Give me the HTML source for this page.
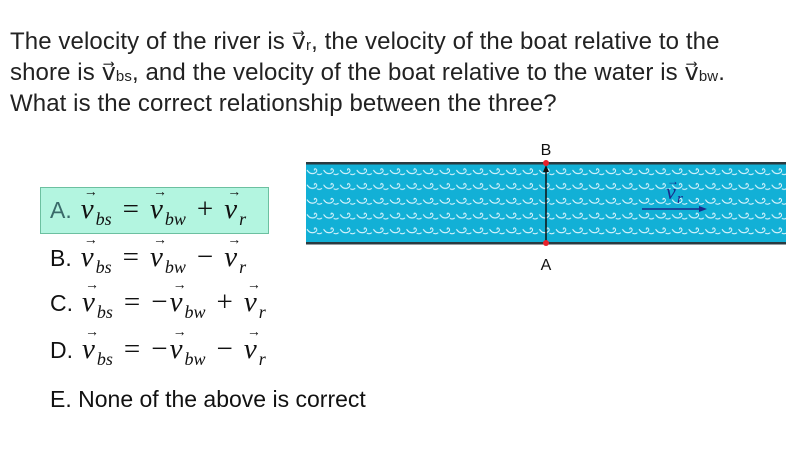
<!DOCTYPE html>
<html><head><style>
body{margin:0;width:797px;height:473px;background:#fff;position:relative;overflow:hidden;font-family:"Liberation Sans",Arial,sans-serif;}
.q{position:absolute;left:10px;top:28px;font-size:24px;line-height:27px;color:#222;white-space:nowrap;letter-spacing:0.1px}
.q sub{font-size:15px;vertical-align:-1px}
.opt{position:absolute;left:50px;font-size:23px;color:#111;white-space:nowrap}
.m{font-family:"Liberation Serif",serif;font-style:italic;font-size:29px;margin-left:9px}
.m sub{font-size:18px;margin-left:2px}
.n{font-style:normal;margin:0 11px}
.s{font-style:normal;margin-right:2px}
.v{position:relative;display:inline-block}
.v:before{content:"→";position:absolute;font-style:normal;font-size:14px;top:-8px;left:3px}
</style></head><body>
<div class="q">The velocity of the river is v⃗<sub>r</sub>, the velocity of the boat relative to the<br>shore is v⃗<sub>bs</sub>, and the velocity of the boat relative to the water is v⃗<sub>bw</sub>.<br>What is the correct relationship between the three?</div>
<div style="position:absolute;left:40px;top:187px;width:229px;height:47px;background:#b3f5e0;border:1px solid #6cc0a0;box-sizing:border-box"></div>
<div class="opt" style="top:193px"><span style="color:#3a6a6a">A.</span><span class="m"><span class="v">v</span><sub>bs</sub><span class="n">=</span><span class="v">v</span><sub>bw</sub><span class="n">+</span><span class="v">v</span><sub>r</sub></span></div>
<div class="opt" style="top:241px">B.<span class="m"><span class="v">v</span><sub>bs</sub><span class="n">=</span><span class="v">v</span><sub>bw</sub><span class="n">−</span><span class="v">v</span><sub>r</sub></span></div>
<div class="opt" style="top:286px">C.<span class="m"><span class="v">v</span><sub>bs</sub><span class="n">=</span><span class="s">−</span><span class="v">v</span><sub>bw</sub><span class="n">+</span><span class="v">v</span><sub>r</sub></span></div>
<div class="opt" style="top:333px">D.<span class="m"><span class="v">v</span><sub>bs</sub><span class="n">=</span><span class="s">−</span><span class="v">v</span><sub>bw</sub><span class="n">−</span><span class="v">v</span><sub>r</sub></span></div>
<div class="opt" style="top:386px">E. None of the above is correct</div>
<svg style="position:absolute;left:0;top:0" width="797" height="473">
<defs><pattern id="w" x="306" y="165" width="16.6" height="14.8" patternUnits="userSpaceOnUse">
<path d="M1 5 Q4 10 9 8 Q12 6 10 4 Q8 3 8.5 5.5 M11 9 Q13.5 10.5 16 8.5" fill="none" stroke="#e8f8ff" stroke-width="1"/>
</pattern></defs>
<rect x="306" y="163" width="480" height="80" fill="#12b0d6"/>
<rect x="306" y="163" width="480" height="80" fill="url(#w)"/>
<rect x="306" y="162" width="480" height="2.5" fill="#2a3a40"/>
<rect x="306" y="242" width="480" height="2.5" fill="#2a3a40"/>
<line x1="546" y1="243" x2="546" y2="168" stroke="#111" stroke-width="1.5"/>
<polygon points="546,165 543,172 549,172" fill="#111"/>
<circle cx="546" cy="163" r="3" fill="#e8202a"/>
<circle cx="546" cy="243" r="3" fill="#e8202a"/>
<line x1="642" y1="209" x2="700" y2="209" stroke="#1a2a8a" stroke-width="1.5"/>
<polygon points="707,209 699,206 699,212" fill="#1a2a8a"/>
<text x="666" y="199" font-family="Liberation Serif" font-style="italic" font-size="22" fill="#1a2a8a">v</text>
<text x="677" y="203" font-family="Liberation Serif" font-style="italic" font-size="15" fill="#1a2a8a">r</text>
<text x="667" y="185" font-size="12" fill="#1a2a8a">→</text>
<text x="546" y="155" text-anchor="middle" font-family="Liberation Sans" font-size="16" fill="#111">B</text>
<text x="546" y="270" text-anchor="middle" font-family="Liberation Sans" font-size="16" fill="#111">A</text>
</svg>
</body></html>
